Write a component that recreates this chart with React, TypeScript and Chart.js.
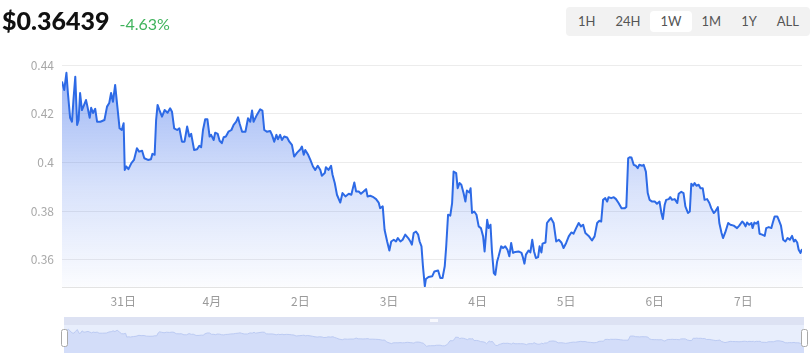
import React, { useEffect, useRef } from "react";
import { Chart, registerables } from "chart.js";

Chart.register(...registerables);

// ---- data ----
const currentPrice = "$0.36439";
const priceChange = "-4.63%";
const rangeButtons = ["1H", "24H", "1W", "1M", "1Y", "ALL"];
const activeRange = "1W";

// hours relative to 31日 00:00
const hours = [
  -16.6, -16.0, -15.4, -15.0, -14.4, -13.9, -13.5, -13.0, -12.5, -12.1,
  -11.7, -11.2, -10.8, -10.1, -9.7, -9.1, -8.7, -8.2, -7.6, -7.1,
  -6.2, -5.1, -4.4, -3.8, -3.3, -2.8, -2.2, -1.6, -1.0, -0.4,
  0.1, 0.4, 0.8, 1.4, 2.2, 2.9, 3.7, 4.3, 5.1, 5.7,
  6.7, 7.5, 7.9, 8.5, 8.9, 9.3, 9.8, 10.5, 11.2, 12.0,
  12.7, 13.2, 13.8, 14.6, 15.2, 15.9, 16.6, 17.3, 17.9, 18.4,
  19.2, 20.0, 20.6, 21.1, 21.6, 22.2, 22.8, 23.4, 23.8, 24.5,
  24.9, 25.6, 26.1, 26.7, 27.2, 27.8, 28.5, 29.3, 29.9, 30.6,
  31.1, 31.5, 32.2, 33.1, 33.8, 34.4, 34.9, 35.3, 36.2, 37.1,
  37.7, 38.2, 38.9, 39.8, 40.3, 40.9, 41.5, 41.9, 42.5, 43.0,
  43.6, 44.4, 45.0, 45.7, 46.3, 47.1, 48.0, 48.4, 48.9, 49.3,
  50.1, 50.7, 51.4, 52.0, 52.7, 53.4, 53.8, 54.6, 54.9, 55.6,
  56.3, 56.7, 57.3, 57.9, 58.8, 59.4, 60.2, 61.1, 61.8, 62.1,
  62.6, 63.1, 63.8, 64.4, 65.1, 65.8, 66.2, 66.9, 67.8, 68.5,
  69.2, 69.6, 70.3, 70.8, 71.5, 72.1, 72.6, 73.3, 73.9, 74.4,
  75.1, 75.7, 76.4, 77.2, 77.8, 78.2, 78.7, 79.3, 79.9, 80.3,
  80.8, 81.2, 81.7, 82.0, 82.7, 83.7, 84.3, 85.3, 85.9, 86.5,
  87.1, 87.5, 88.0, 88.6, 89.1, 89.5, 90.2, 90.6, 91.1, 91.6,
  92.2, 92.7, 93.1, 93.8, 94.1, 94.5, 95.1, 95.7, 96.3, 96.9,
  97.5, 97.9, 98.6, 99.0, 99.5, 99.9, 100.4, 100.8, 101.3, 101.7,
  102.4, 102.9, 103.5, 104.1, 104.6, 105.1, 105.6, 106.2, 107.1, 107.9,
  108.2, 108.7, 109.1, 109.8, 110.3, 110.8, 111.3, 111.8, 112.4, 112.8,
  113.3, 113.6, 114.4, 114.8, 115.3, 115.9, 116.6, 117.3, 118.0, 118.7,
  119.3, 120.0, 120.7, 121.4, 122.0, 122.7, 123.4, 124.0, 124.6, 125.2,
  126.1, 127.0, 127.7, 128.4, 129.0, 129.5, 130.0, 130.6, 131.1, 131.5,
  132.2, 132.9, 133.5, 134.2, 135.0, 135.9, 136.3, 136.8, 137.2, 137.7,
  138.3, 138.9, 139.4, 139.8, 140.6, 141.0, 141.6, 142.1, 142.6, 143.3,
  144.0, 144.6, 145.3, 145.8, 146.2, 146.7, 147.1, 147.8, 148.2, 148.7,
  149.4, 150.1, 150.5, 151.2, 151.8, 152.3, 153.0, 153.5, 153.9, 154.4,
  154.8, 155.3, 155.9, 156.4, 157.0, 157.5, 158.2, 158.8, 159.3, 160.0,
  160.4, 161.1, 161.5, 162.1, 162.5, 163.1, 163.9, 164.5, 165.4, 166.3,
  166.9, 167.7, 168.1, 168.6, 169.0, 169.6, 170.2, 170.5, 171.0, 171.5,
  172.0, 172.4, 173.1, 173.8, 174.2, 174.9, 175.6, 176.0, 176.5, 177.2,
  177.6, 178.2, 178.8, 179.4, 180.0, 180.6, 181.2, 181.7, 182.1, 182.6,
  183.0, 183.5, 183.9,
];

const prices = [
  0.4332, 0.4297, 0.4368, 0.4285, 0.4183, 0.4167, 0.4256, 0.4352, 0.4154, 0.4174,
  0.4285, 0.4215, 0.4229, 0.4256, 0.4229, 0.4183, 0.4224, 0.4203, 0.4220, 0.4167,
  0.4167, 0.4174, 0.4229, 0.4244, 0.4285, 0.4249, 0.4318, 0.4229, 0.4140, 0.4133,
  0.4161, 0.3969, 0.3983, 0.3972, 0.3997, 0.4010, 0.4058, 0.4044, 0.4048, 0.4017,
  0.4010, 0.4013, 0.4035, 0.4031, 0.4174, 0.4236, 0.4215, 0.4188, 0.4215, 0.4204,
  0.4222, 0.4208, 0.4140, 0.4133, 0.4140, 0.4085, 0.4085, 0.4147, 0.4106, 0.4117,
  0.4051, 0.4054, 0.4068, 0.4062, 0.4133, 0.4177, 0.4177, 0.4106, 0.4113, 0.4092,
  0.4122, 0.4117, 0.4089, 0.4079, 0.4103, 0.4106, 0.4126, 0.4133, 0.4154, 0.4167,
  0.4185, 0.4161, 0.4126, 0.4126, 0.4181, 0.4167, 0.4213, 0.4167, 0.4195, 0.4218,
  0.4213, 0.4133, 0.4126, 0.4129, 0.4113, 0.4085, 0.4113, 0.4095, 0.4113, 0.4092,
  0.4106, 0.4102, 0.4085, 0.4072, 0.4024, 0.4040, 0.4054, 0.4065, 0.4031, 0.4051,
  0.4031, 0.4010, 0.3983, 0.3969, 0.3986, 0.3969, 0.3945, 0.3956, 0.3980, 0.3969,
  0.3986, 0.3949, 0.3915, 0.3867, 0.3835, 0.3874, 0.3860, 0.3871, 0.3867, 0.3887,
  0.3917, 0.3880, 0.3880, 0.3871, 0.3880, 0.3890, 0.3860, 0.3863, 0.3857, 0.3849,
  0.3835, 0.3812, 0.3819, 0.3723, 0.3675, 0.3638, 0.3675, 0.3682, 0.3675, 0.3689,
  0.3675, 0.3682, 0.3703, 0.3689, 0.3675, 0.3662, 0.3710, 0.3716, 0.3703, 0.3675,
  0.3655, 0.3573, 0.3491, 0.3521, 0.3529, 0.3532, 0.3552, 0.3556, 0.3525, 0.3525,
  0.3573, 0.3655, 0.3785, 0.3781, 0.3833, 0.3962, 0.3956, 0.3894, 0.3915, 0.3908,
  0.3874, 0.3839, 0.3884, 0.3876, 0.3894, 0.3792, 0.3798, 0.3785, 0.3737, 0.3730,
  0.3696, 0.3634, 0.3764, 0.3730, 0.3744, 0.3634, 0.3545, 0.3538, 0.3593, 0.3614,
  0.3655, 0.3648, 0.3655, 0.3641, 0.3614, 0.3669, 0.3628, 0.3632, 0.3634, 0.3628,
  0.3614, 0.3584, 0.3621, 0.3638, 0.3630, 0.3682, 0.3634, 0.3607, 0.3611, 0.3655,
  0.3630, 0.3666, 0.3671, 0.3751, 0.3761, 0.3771, 0.3751, 0.3675, 0.3682, 0.3671,
  0.3648, 0.3669, 0.3696, 0.3712, 0.3707, 0.3730, 0.3751, 0.3737, 0.3744, 0.3710,
  0.3698, 0.3679, 0.3696, 0.3751, 0.3760, 0.3757, 0.3846, 0.3853, 0.3839, 0.3857,
  0.3853, 0.3857, 0.3849, 0.3833, 0.3812, 0.3812, 0.3817, 0.4017, 0.4021, 0.4020,
  0.3990, 0.3986, 0.3976, 0.3990, 0.3986, 0.3990, 0.3962, 0.3874, 0.3846, 0.3839,
  0.3839, 0.3830, 0.3839, 0.3792, 0.3767, 0.3826, 0.3846, 0.3849, 0.3857, 0.3846,
  0.3849, 0.3833, 0.3871, 0.3879, 0.3874, 0.3819, 0.3792, 0.3798, 0.3912, 0.3904,
  0.3915, 0.3904, 0.3908, 0.3894, 0.3894, 0.3846, 0.3849, 0.3833, 0.3812, 0.3792,
  0.3798, 0.3816, 0.3751, 0.3710, 0.3689, 0.3712, 0.3751, 0.3744, 0.3740, 0.3730,
  0.3740, 0.3757, 0.3751, 0.3737, 0.3753, 0.3744, 0.3751, 0.3730, 0.3753, 0.3748,
  0.3757, 0.3707, 0.3703, 0.3698, 0.3730, 0.3734, 0.3730, 0.3753, 0.3778, 0.3778,
  0.3764, 0.3740, 0.3682, 0.3675, 0.3689, 0.3682, 0.3698, 0.3675, 0.3682, 0.3671,
  0.3641, 0.3628, 0.36439,
];

const xTickHours = [0, 24, 48, 72, 96, 120, 144, 168];
const xTickLabels = ["31日", "4月", "2日", "3日", "4日", "5日", "6日", "7日"];
const yTickValues = [0.36, 0.38, 0.4, 0.42, 0.44];
const yMin = 0.3488;
const yMax = 0.44;
const navYMin = 0.316;
const navYMax = 0.499;

const TICK_FONT = "'Noto Sans CJK SC', 'Noto Sans', sans-serif";
const HEAD_FONT = "Lato, 'Noto Sans', sans-serif";

const navigatorDecor = {
  id: "navigatorDecor",
  beforeDatasetsDraw(chart: any) {
    const { ctx, chartArea: a } = chart;
    ctx.save();
    ctx.fillStyle = "#e8eefc";
    ctx.fillRect(a.left, a.top, a.right - a.left, a.bottom - a.top);
    ctx.fillStyle = "#dde2f3";
    ctx.fillRect(a.left, a.top, a.right - a.left, 8);
    ctx.restore();
  },
  afterDatasetsDraw(chart: any) {
    const { ctx, chartArea: a } = chart;
    ctx.save();
    const cx = (a.left + a.right) / 2;
    ctx.fillStyle = "#f7f8fd";
    ctx.fillRect(cx - 4, a.top + 2, 8, 3);
    const drawHandle = (x: number) => {
      const w = 6, h = 17;
      const y = a.top + 12;
      ctx.beginPath();
      ctx.roundRect(x - w / 2 + 0.5, y + 0.5, w, h, 2);
      ctx.fillStyle = "#ffffff";
      ctx.fill();
      ctx.strokeStyle = "#a9a9a9";
      ctx.lineWidth = 1;
      ctx.stroke();
    };
    drawHandle(a.left);
    drawHandle(a.right);
    ctx.restore();
  },
};

export default function App() {
  const mainRef = useRef<HTMLCanvasElement>(null);
  const navRef = useRef<HTMLCanvasElement>(null);

  useEffect(() => {
    document.body.style.margin = "0";
    const points = hours.map((h, i) => ({ x: h, y: prices[i] }));

    const main = new Chart(mainRef.current!, {
      type: "line",
      data: {
        datasets: [
          {
            data: points,
            borderColor: "#2d6ae6",
            borderWidth: 2,
            pointRadius: 0,
            tension: 0,
            borderJoinStyle: "round",
            fill: "start",
            backgroundColor: (c: any) => {
              const { ctx, chartArea } = c.chart;
              if (!chartArea) return "rgba(60,110,235,0.3)";
              const g = ctx.createLinearGradient(0, chartArea.top, 0, chartArea.bottom);
              g.addColorStop(0, "rgba(60,110,235,0.52)");
              g.addColorStop(0.55, "rgba(60,110,235,0.2)");
              g.addColorStop(1, "rgba(60,110,235,0.02)");
              return g;
            },
          },
        ],
      },
      options: {
        animation: false,
        responsive: false,
        maintainAspectRatio: false,
        layout: { padding: { top: 65, right: 8, left: 0, bottom: 0 } },
        plugins: { legend: { display: false }, tooltip: { enabled: false } },
        scales: {
          x: {
            type: "linear",
            min: hours[0],
            max: hours[hours.length - 1],
            afterBuildTicks: (s: any) => {
              s.ticks = xTickHours.map((v) => ({ value: v }));
            },
            afterFit: (s: any) => {
              s.height = 29;
            },
            ticks: {
              autoSkip: false,
              maxRotation: 0,
              padding: 7,
              color: "#9a9a9a",
              font: { size: 12, family: TICK_FONT },
              callback: (v: any) => {
                const i = xTickHours.indexOf(Number(v));
                return i >= 0 ? xTickLabels[i] : "";
              },
            },
            grid: { display: false, drawTicks: false },
            border: { display: true, color: "#e3e3e3", width: 1 },
          },
          y: {
            min: yMin,
            max: yMax,
            afterBuildTicks: (s: any) => {
              s.ticks = yTickValues.map((v) => ({ value: v }));
            },
            afterFit: (s: any) => {
              s.width = 62;
            },
            ticks: {
              padding: 8,
              color: "#a8a8a8",
              font: { size: 12, family: TICK_FONT },
              callback: (v: any) => String(v),
            },
            grid: { color: "#ececec", drawTicks: false, lineWidth: 1 },
            border: { display: false },
          },
        },
      },
    });

    const nav = new Chart(navRef.current!, {
      type: "line",
      data: {
        datasets: [
          {
            data: points,
            borderColor: "#bccbf3",
            borderWidth: 1,
            pointRadius: 0,
            tension: 0,
            fill: "start",
            backgroundColor: "#d3ddf9",
          },
        ],
      },
      options: {
        animation: false,
        responsive: false,
        maintainAspectRatio: false,
        layout: { padding: { top: 1, bottom: 3, left: 64, right: 6 } },
        plugins: { legend: { display: false }, tooltip: { enabled: false } },
        scales: {
          x: { type: "linear", display: false, min: hours[0], max: hours[hours.length - 1] },
          y: { display: false, min: navYMin, max: navYMax },
        },
      },
      plugins: [navigatorDecor],
    });

    return () => {
      main.destroy();
      nav.destroy();
    };
  }, []);

  return (
    <div
      style={{
        position: "fixed",
        left: 0,
        top: 0,
        width: 810,
        height: 362,
        background: "#fff",
        overflow: "hidden",
      }}
    >
      <canvas
        ref={mainRef}
        width={810}
        height={316}
        style={{ position: "absolute", left: 0, top: 0, width: 810, height: 316 }}
      />
      <canvas
        ref={navRef}
        width={810}
        height={40}
        style={{ position: "absolute", left: 0, top: 316, width: 810, height: 40 }}
      />
      <div
        style={{
          position: "absolute",
          left: 2,
          top: 0,
          height: 40,
          display: "flex",
          alignItems: "baseline",
          fontFamily: HEAD_FONT,
          lineHeight: "41px",
        }}
      >
        <span style={{ fontSize: 25, fontWeight: 900, color: "#111" }}>{currentPrice}</span>
        <span style={{ fontSize: 16, color: "#3fb35c", marginLeft: 10 }}>{priceChange}</span>
      </div>
      <div
        style={{
          position: "absolute",
          left: 566,
          top: 7,
          width: 244,
          height: 29,
          background: "#f2f2f2",
          borderRadius: 4,
          display: "flex",
          alignItems: "center",
          paddingLeft: 2,
          boxSizing: "border-box",
          fontFamily: HEAD_FONT,
        }}
      >
        {rangeButtons.map((b) => (
          <div
            key={b}
            style={{
              padding: "0 10px",
              height: 21,
              lineHeight: "21px",
              fontSize: 13,
              color: "#555",
              borderRadius: 4,
              background: b === activeRange ? "#fff" : "transparent",
            }}
          >
            {b}
          </div>
        ))}
      </div>
    </div>
  );
}
